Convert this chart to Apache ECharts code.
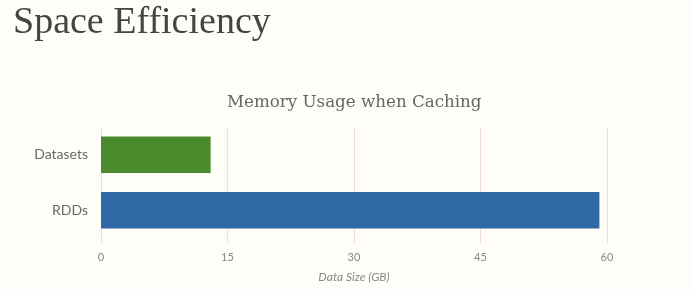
<!DOCTYPE html>
<html><head><meta charset="utf-8">
<script src="https://cdn.jsdelivr.net/npm/echarts@6/dist/echarts.min.js"></script>
<style>html,body{margin:0;padding:0;background:#fffdf8;}#c{width:692px;height:290px;}</style>
</head><body><div id="c"></div>
<script>
const categories = ['RDDs', 'Datasets'];
const values = [59.1, 13.0];
const barColors = ['#2e69a6', '#4b8a2c'];
const xTicks = [0, 15, 30, 45, 60];

const chart = echarts.init(document.getElementById('c'));
chart.setOption({
  backgroundColor: '#fffdf8',
  title: [
    {text: 'Space Efficiency', left: 8, top: -1,
     textStyle: {fontFamily: 'Liberation Serif', fontSize: 38, fontWeight: 'normal', color: '#444'}},
    {text: 'Memory Usage when Caching', left: 222, top: 89,
     textStyle: {fontFamily: 'DejaVu Serif', fontSize: 16.7, fontWeight: 'normal', color: '#666'}}
  ],
  grid: {left: 101, right: 85, top: 127, bottom: 52},
  xAxis: {
    type: 'value', min: 0, max: 60, interval: 15,
    name: 'Data Size (GB)', nameLocation: 'middle', nameGap: 33,
    nameTextStyle: {fontFamily: 'Lato', fontStyle: 'italic', fontSize: 12, color: '#888'},
    axisLine: {show: false},
    axisTick: {show: true, length: 5, lineStyle: {color: '#eedede'}},
    axisLabel: {fontFamily: 'Lato', fontSize: 11, color: '#888', margin: 14,
      formatter: v => xTicks.includes(v) ? String(v) : ''},
    splitLine: {show: true, lineStyle: {color: '#f2dede', width: 1}}
  },
  yAxis: {
    type: 'category', data: categories,
    axisLine: {show: false}, axisTick: {show: false},
    axisLabel: {fontFamily: 'Lato', fontSize: 14, color: '#6a6a6a', margin: 13}
  },
  series: [{
    type: 'bar', data: values.map((v, i) => ({value: v, itemStyle: {color: barColors[i]}})),
    barWidth: '66%'
  }]
});
</script></body></html>
